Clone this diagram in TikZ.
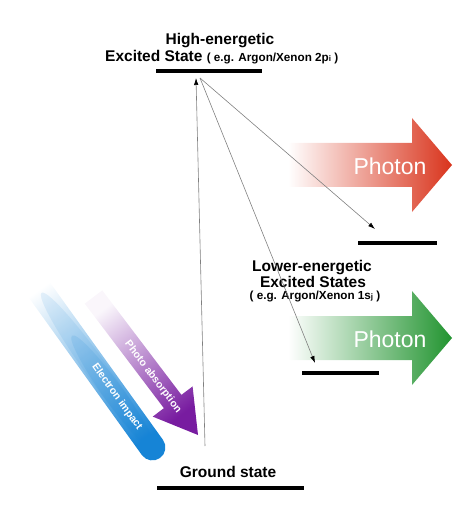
\documentclass[tikz,border=0pt]{standalone}
\usepackage{fontspec}
\setmainfont{Liberation Sans}
\usetikzlibrary{arrows.meta,calc}
\definecolor{photonred}{RGB}{217,52,28}
\definecolor{photongreen}{RGB}{34,148,48}
\definecolor{absorbviolet}{RGB}{120,28,160}
\definecolor{impactblue}{RGB}{22,132,214}
\begin{document}
\begin{tikzpicture}[x=1pt,y=-1pt]
            \tikzstyle{level bar}=[fill=black,inner sep=0,minimum height=4.5]
            \tikzstyle{state text}=[font=\fontsize{15.5}{18}\selectfont\bfseries,inner sep=0,anchor=base]
            \tikzstyle{example text}=[font=\fontsize{11.7}{13}\selectfont\bfseries,inner sep=0,anchor=base]
            \tikzstyle{transition}=[draw=gray,line width=0.6,-{Latex[black,length=7,width=4.5]}]
            \tikzstyle{photon text}=[text=white,inner sep=0,font=\fontsize{23}{26}\selectfont]
            \tikzstyle{beam text}=[text=white,inner sep=0,font=\fontsize{10.5}{12}\selectfont\bfseries]

            \useasboundingbox (0,0) rectangle (474,521);

            \shade[left color=white,right color=photonred]
            (288,143) -- (412,143) -- (412,118) -- (452,165) -- (412,212) -- (412,187) -- (288,187) -- cycle;
            \shade[left color=white,right color=photongreen]
            (288,316) -- (412,316) -- (412,291) -- (452,338) -- (412,385) -- (412,360) -- (288,360) -- cycle;
            \node(photon up)[photon text] at (390,166){Photon};
            \node(photon low)[photon text] at (390,339){Photon};

            \coordinate(beam start) at (25,270);
            \coordinate(beam end) at (160,458);
            \shade[top color=impactblue,middle color=impactblue!35,bottom color=white,shading angle=-144.3,rounded corners=13pt]
            ($(beam start)!13pt!90:(beam end)$) -- ($(beam end)!13pt!-90:(beam start)$)
            -- ($(beam end)!13pt!90:(beam start)$) -- ($(beam start)!13pt!-90:(beam end)$) -- cycle;
            \fill[impactblue,opacity=.1,rotate around={-54.3:(97,370)}] (97,370) ellipse [x radius=95,y radius=11];
            \fill[impactblue,opacity=.12,rotate around={-54.3:(114,394)}] (114,394) ellipse [x radius=72,y radius=10];
            \node(impact)[beam text,rotate=-54.3] at (117,397){Electron impact};

            \coordinate(absorb start) at (93.5,297);
            \coordinate(absorb tip) at (198,435);
            \coordinate(absorb head) at ($(absorb tip)!42pt!(absorb start)$);
            \shade[top color=absorbviolet,bottom color=absorbviolet!4,shading angle=-142.9]
            ($(absorb start)!11pt!90:(absorb tip)$) -- ($(absorb head)!11pt!90:(absorb tip)$)
            -- ($(absorb head)!25pt!90:(absorb tip)$) -- (absorb tip)
            -- ($(absorb head)!25pt!-90:(absorb tip)$) -- ($(absorb head)!11pt!-90:(absorb tip)$)
            -- ($(absorb start)!11pt!-90:(absorb tip)$) -- cycle;
            \node(absorb)[beam text,rotate=-52.9] at (153,377){Photo absorption};

            \node(high)[level bar,minimum width=106] at (209,71){};
            \node(upper)[level bar,minimum width=79] at (397,243){};
            \node(lower)[level bar,minimum width=77] at (340,373){};
            \node(ground)[level bar,minimum width=147] at (230,488){};

            \node(high top)[state text] at (220,45){High-energetic};
            \node(high bottom)[state text,anchor=base west] at (105,62){Excited State {\fontsize{11.7}{13}\selectfont( e.g. Argon/Xenon 2p{\fontsize{8}{9}\selectfont i} )}};
            \node(low top)[state text] at (312,271){Lower-energetic};
            \node(low bottom)[state text] at (313,287){Excited States};
            \node(low example)[example text] at (315,299){( e.g. Argon/Xenon 1s{\fontsize{8}{9}\selectfont j} )};
            \node(ground label)[state text] at (228,477){Ground state};

            \coordinate(up start) at (205,446);
            \coordinate(up end) at (196,78);
            \coordinate(down start) at (200,78);
            \coordinate(down upper) at (375,229);
            \coordinate(down lower) at (315,363);
            \draw[transition] (up start) -- (up end);
            \draw[transition] (down start) -- (down upper);
            \draw[transition] (down start) -- (down lower);
        \end{tikzpicture}
\end{document}
